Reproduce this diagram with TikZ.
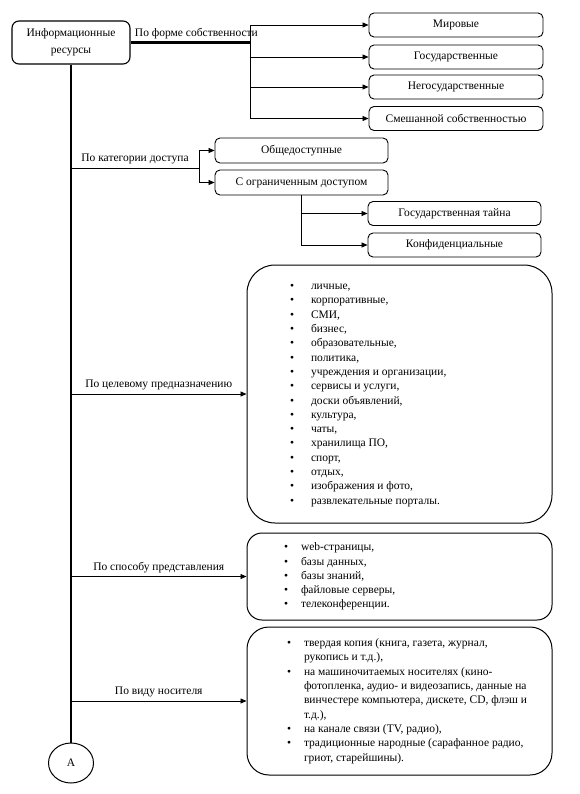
\documentclass[tikz,border=0pt]{standalone}
\usepackage{fontspec}
\setmainfont{Liberation Serif}
\usetikzlibrary{arrows.meta,shapes.geometric}

\newlength{\bulw}
\newcommand{\itm}[1]{\makebox[\bulw][l]{\textbullet}#1\\}
\newcommand{\cont}[1]{\hspace*{\bulw}#1\\}

\tikzset{
    txt/.style={font=\fontsize{11.5}{14.3}\selectfont},
    catbox/.style={draw, line width=0.9pt, rounded corners=5pt, minimum width=174pt,
                   minimum height=24pt, inner sep=0pt, txt},
    listbox/.style={draw, line width=1pt, inner sep=0pt, minimum width=305pt, txt},
    arr/.style={line width=0.8pt, -{Triangle[length=6pt,width=5pt]}},
    trunk/.style={line width=2.2pt},
}

\begin{document}
\begin{tikzpicture}[x=1pt, y=-1pt]

    \useasboundingbox (0,0) rectangle (580,794);

    % root and trunk
    \node[draw, line width=1.1pt, rounded corners=7pt, minimum width=118pt, minimum height=43pt,
          align=center, txt] (info) at (71,42.5) {Информационные\\[2.5pt]ресурсы};
    \node[draw, ellipse, line width=1pt, minimum width=45pt, minimum height=40pt, txt] (A) at (71,763) {А};
    \draw[trunk] (info.south) -- (A.north);

    % by ownership
    \node[catbox] (world)    at (456,25)    {Мировые};
    \node[catbox] (state)    at (456,57)    {Государственные};
    \node[catbox] (nonstate) at (456,87)    {Негосударственные};
    \node[catbox] (mixed)    at (456,118.5) {Смешанной собственностью};

    \coordinate (own) at (250,42.5);
    \draw[trunk] (info.east) -- node[pos=0, anchor=south west, inner ysep=2pt, txt] {По форме собственности} (own);
    \foreach \n in {world,state,nonstate,mixed}
        \draw[arr] (own) |- (\n);

    % by access
    \node[catbox, minimum width=173pt, minimum height=25pt] (public)  at (301.5,150.5) {Общедоступные};
    \node[catbox, minimum width=173pt, minimum height=25pt] (limited) at (301.5,182.5) {С ограниченным доступом};
    \node[catbox, minimum width=173pt] (secret) at (454.5,213.5) {Государственная тайна};
    \node[catbox, minimum width=173pt] (conf)   at (454.5,245)   {Конфиденциальные};

    \coordinate (acc) at (199,168);
    \draw[line width=0.8pt] (info |- acc) -- node[above, txt] {По категории доступа} (acc);
    \draw[arr] (acc) |- (public);
    \draw[arr] (acc) |- (limited);
    \draw[arr] (limited) |- (secret);
    \draw[arr] (limited) |- (conf);

    % by purpose
    \node[listbox, rounded corners=28pt, minimum height=258pt] (goal) at (399.5,394) {%
        \makebox[305pt][l]{\hspace*{43pt}\setlength{\bulw}{21pt}%
        \begin{tabular}{@{}l@{}}
            \itm{личные,}
            \itm{корпоративные,}
            \itm{СМИ,}
            \itm{бизнес,}
            \itm{образовательные,}
            \itm{политика,}
            \itm{учреждения и организации,}
            \itm{сервисы и услуги,}
            \itm{доски объявлений,}
            \itm{культура,}
            \itm{чаты,}
            \itm{хранилища ПО,}
            \itm{спорт,}
            \itm{отдых,}
            \itm{изображения и фото,}
            \itm{развлекательные порталы.}
        \end{tabular}}};
    \draw[arr] (info |- goal) -- node[above, txt] {По целевому предназначению} (goal);

    % by presentation
    \node[listbox, rounded corners=15pt, minimum height=87pt] (form) at (399.5,576.5) {%
        \makebox[305pt][l]{\hspace*{37pt}\setlength{\bulw}{17pt}%
        \begin{tabular}{@{}l@{}}
            \itm{web-страницы,}
            \itm{базы данных,}
            \itm{базы знаний,}
            \itm{файловые серверы,}
            \itm{телеконференции.}
        \end{tabular}}};
    \draw[arr] (info |- form) -- node[above, txt] {По способу представления} (form);

    % by carrier
    \node[listbox, rounded corners=22pt, minimum height=148pt] (media) at (399.5,701) {%
        \makebox[305pt][l]{\hspace*{40pt}\setlength{\bulw}{17pt}%
        \begin{tabular}{@{}l@{}}
            \itm{твердая копия (книга, газета, журнал,}
            \cont{рукопись и т.д.),}
            \itm{на машиночитаемых носителях (кино-}
            \cont{фотопленка, аудио- и видеозапись, данные на}
            \cont{винчестере компьютера, дискете, CD, флэш и}
            \cont{т.д.),}
            \itm{на канале связи (TV, радио),}
            \itm{традиционные народные (сарафанное радио,}
            \cont{гриот, старейшины).}
        \end{tabular}}};
    \draw[arr] (info |- media) -- node[above, txt] {По виду носителя} (media);

\end{tikzpicture}
\end{document}
